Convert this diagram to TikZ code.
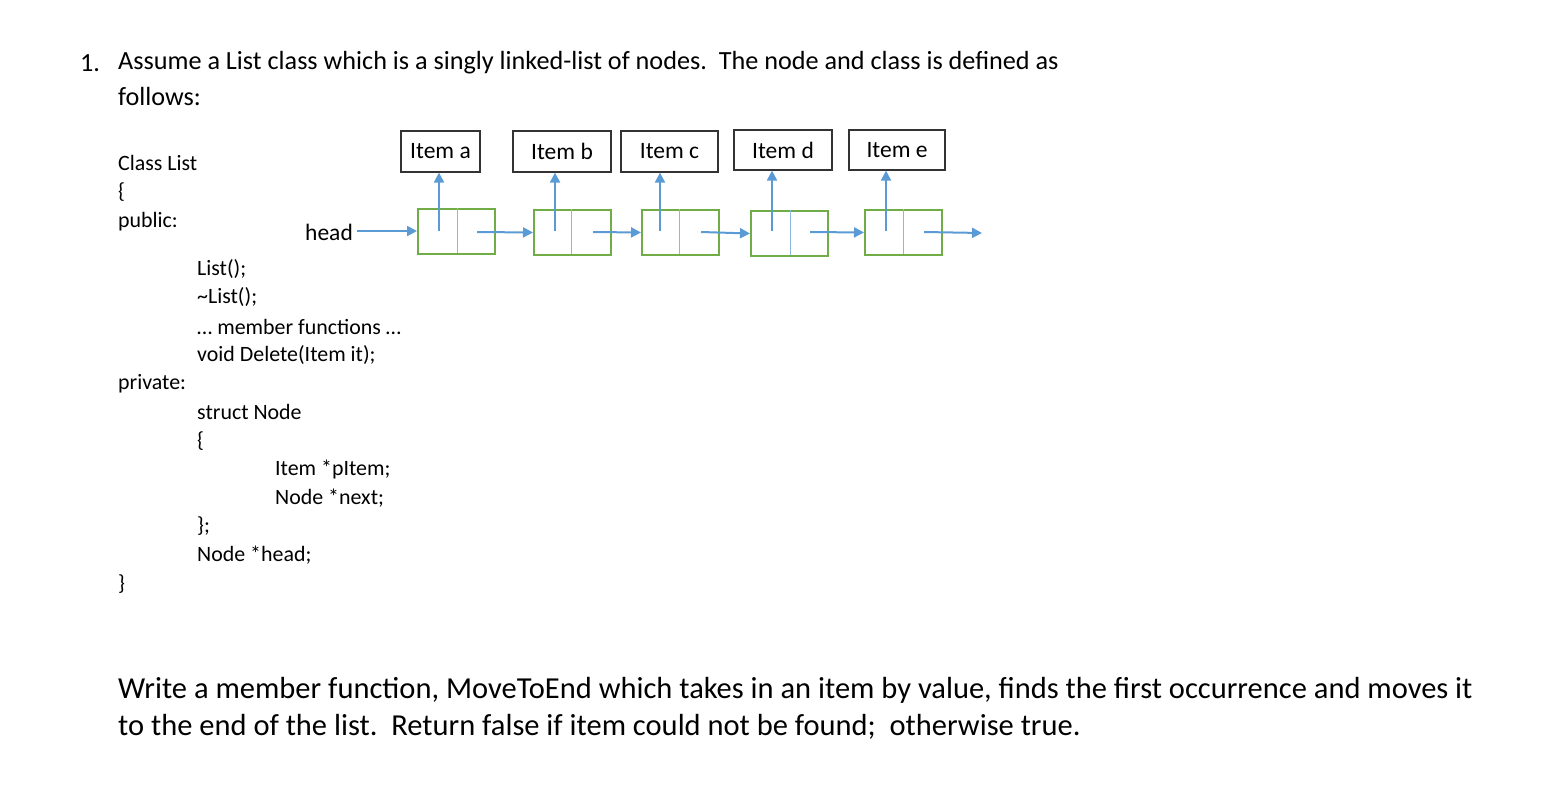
\documentclass[tikz,border=0pt]{standalone}
\usepackage{fontspec}
\setmainfont{Carlito}
\usetikzlibrary{arrows.meta}
\definecolor{lb}{HTML}{5B9BD5}
\definecolor{gr}{HTML}{70AD47}
\begin{document}
\begin{tikzpicture}[x=1pt,y=-1pt,
  t/.style={anchor=west,inner sep=0pt,font=\fontsize{26.2}{30}\selectfont},
  c/.style={anchor=west,inner sep=0pt,font=\fontsize{21.9}{25}\selectfont},
  itm/.style={draw=black!80,line width=1.2pt,inner sep=0pt,font=\fontsize{23.5}{27}\selectfont},
  nd/.style={draw=gr,line width=2pt,inner sep=0pt},
  ar/.style={draw=lb,line width=2pt,-{Triangle[length=10pt,width=10pt]}}]
\useasboundingbox (0,0) rectangle (1565,803);
\node[t] (n1) at (80,63) {1.};
\node[t] (l1) at (118,63) {Assume a List class which is a singly linked-list of nodes.\ \ The node and class is defined as};
\node[t] (l2) at (118,97) {follows:};
\node[c] (c1) at (118,163) {Class List};
\node[c] (c2) at (118,192) {\{};
\node[c] (c3) at (118,222) {public:};
\node[c] (c4) at (197,269) {List();};
\node[c] (c5) at (197,297) {\textasciitilde List();};
\node[c] (c6) at (197,327) {… member functions …};
\node[c] (c7) at (197,355) {void Delete(Item it);};
\node[c] (c8) at (118,384) {private:};
\node[c] (c9) at (197,412) {struct Node};
\node[c] (c10) at (197,441) {\{};
\node[c] (c11) at (275,469) {Item *pItem;};
\node[c] (c12) at (275,498) {Node *next;};
\node[c] (c13) at (197,526) {\};};
\node[c] (c14) at (197,555) {Node *head;};
\node[c] (c15) at (118,584) {\}};
\node[anchor=west,inner sep=0pt,font=\fontsize{23.5}{27}\selectfont] (head) at (305,232) {head};
\node[anchor=west,inner sep=0pt,font=\fontsize{30.5}{35}\selectfont] (w1) at (118,690) {Write a member function, MoveToEnd which takes in an item by value, finds the first occurrence and moves it};
\node[anchor=west,inner sep=0pt,font=\fontsize{30.5}{35}\selectfont] (w2) at (118,727) {to the end of the list.\ \ Return false if item could not be found;\ \ otherwise true.};
% items
\node[itm,minimum width=79pt,minimum height=41pt] (ia) at (440.5,151.5) {Item a};
\node[itm,minimum width=98pt,minimum height=41pt] (ib) at (562,151.5) {Item b};
\node[itm,minimum width=97pt,minimum height=41pt] (ic) at (669.5,151.5) {Item c};
\node[itm,minimum width=98pt,minimum height=40pt] (id) at (783,150) {Item d};
\node[itm,minimum width=96pt,minimum height=40pt] (ie) at (897,150) {Item e};
% nodes
\foreach \n/\l/\y/\dv/\up in {1/417/208/457/439, 2/533/209/571/555, 3/641/209/679/660, 4/750/210/790/772, 5/864/209/903/886}{
  \node[nd,minimum width=77pt,minimum height=45pt,anchor=north west] (b\n) at (\l,\y) {};
  \coordinate (u\n) at (\up,231);
  \coordinate (p\n) at (\l+60,232);
  \draw[lb!70,line width=1pt] (\dv,\y) -- (\dv,\y+45);
}
\coordinate (hs) at (357,231);
\draw[ar] (hs) -- (b1.west |- hs);
\draw[ar] (u1) -- (ia.south -| u1);
\draw[ar] (u2) -- (ib.south -| u2);
\draw[ar] (u3) -- (ic.south -| u3);
\draw[ar] (u4) -- (id.south -| u4);
\draw[ar] (u5) -- (ie.south -| u5);
\draw[ar] (p1) -- (b2.west);
\draw[ar] (p2) -- (b3.west);
\draw[ar] (p3) -- (b4.west);
\draw[ar] (p4) -- (b5.west);
\coordinate (endp) at (982,233);
\draw[ar] (p5) -- (endp);
\end{tikzpicture}
\end{document}
